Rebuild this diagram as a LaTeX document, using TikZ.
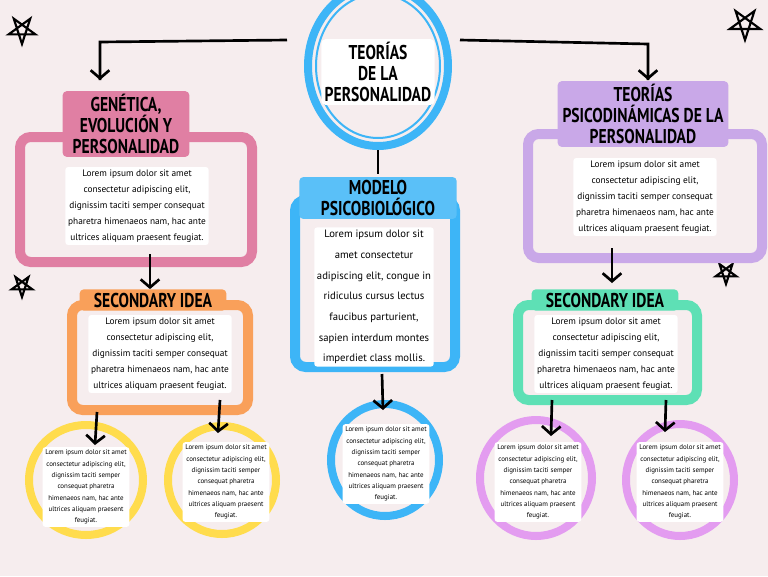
\documentclass[tikz,border=0pt]{standalone}
\usepackage{fontspec}
\setmainfont{PT Sans}
\newfontfamily\ttlfont[FakeStretch=0.78]{PT Sans}
\usetikzlibrary{arrows.meta}
\definecolor{bg}{HTML}{F6EDEE}
\definecolor{cblue}{HTML}{3DB5F7}
\definecolor{cpink}{HTML}{E07FA3}
\definecolor{corange}{HTML}{F9A05A}
\definecolor{cpurple}{HTML}{C9A8E8}
\definecolor{cgreen}{HTML}{5EE0B5}
\definecolor{cyellow}{HTML}{FFDC4D}
\definecolor{cviolet}{HTML}{E39CF0}
\tikzset{
  lorem/.style={fill=white,rounded corners=2pt,align=center,font=\fontsize{7}{12}\selectfont,inner sep=2pt},
  small/.style={fill=white,rounded corners=2pt,align=center,font=\fontsize{5.2}{8.5}\selectfont,inner sep=2pt},
  ttl/.style={align=center,font=\ttlfont\bfseries\fontsize{15}{15.5}\selectfont,inner sep=2.5pt,rounded corners=3pt},
  frame/.style={line width=7.5pt,rounded corners=8pt},
  ring/.style={line width=6pt},
  conn/.style={line width=2pt,-{Straight Barb[length=6pt,width=14pt]}},
  ln/.style={line width=2pt},
  star/.style={line width=1.6pt}
}
\newcommand{\mystar}[3]{\draw[star] #1 +(90:#2)--+(234:#2)--+(18:#2)--+(162:#2)--+(306:#2)--cycle;}
\begin{document}
\begin{tikzpicture}[x=0.75pt,y=-0.75pt]
\fill[bg] (0,0) rectangle (768,576);
\useasboundingbox (0,0) rectangle (768,576);
% stars
\mystar{(22,30)}{14}{}
\mystar{(745,24)}{16}{}
\mystar{(22,286)}{11}{}
\mystar{(726,273)}{11}{}
% central
\draw[cblue,ring] (378,66) ellipse (70 and 80);
\draw[cblue,line width=1.5pt] (378,66) ellipse (62 and 72);
\node[ttl,fill=white] (main) at (378,72) {TEORÍAS\\DE LA\\PERSONALIDAD};
\coordinate (tl) at (100,80);
\coordinate (tr) at (648,80);
\draw[ln] (287,40) -- (100,42) -- (tl);
\draw[conn] (100,60) -- (tl);
\draw[ln] (460,40) -- (648,44) -- (tr);
\draw[conn] (648,60) -- (tr);
% pink
\draw[cpink,frame] (20,137) rectangle (252,262);
\node[ttl,fill=cpink,minimum width=95pt] (pt) at (126,124) {GENÉTICA,\\EVOLUCIÓN Y\\PERSONALIDAD};
\node[lorem] (pl) at (137,206) {Lorem ipsum dolor sit amet\\consectetur adipiscing elit,\\dignissim taciti semper consequat\\pharetra himenaeos nam, hac ante\\ultrices aliquam praesent feugiat.};
% orange
\draw[corange,frame] (72,305) rectangle (248,410);
\node[ttl,fill=corange,minimum width=110pt] (ot) at (153,300) {SECONDARY IDEA};
\node[lorem] (ol) at (160,354) {Lorem ipsum dolor sit amet\\consectetur adipiscing elit,\\dignissim taciti semper consequat\\pharetra himenaeos nam, hac ante\\ultrices aliquam praesent feugiat.};
\draw[conn] (150,254) -- (ot.north -| 150,0);
% yellow circles
\draw[cyellow,ring] (86,480) ellipse (57 and 55);
\draw[cyellow,ring] (222,480) ellipse (54 and 54);
\node[small] (y1) at (86,487) {Lorem ipsum dolor sit amet\\consectetur adipiscing elit,\\dignissim taciti semper\\consequat pharetra\\himenaeos nam, hac ante\\ultrices aliquam praesent\\feugiat.};
\node[small] (y2) at (226,482) {Lorem ipsum dolor sit amet\\consectetur adipiscing elit,\\dignissim taciti semper\\consequat pharetra\\himenaeos nam, hac ante\\ultrices aliquam praesent\\feugiat.};
\draw[conn] (97,412) -- (95,445);
\draw[conn] (220,400) -- (218,433);
% blue middle
\draw[ln] (378,150) -- (378,174);
\draw[cblue,frame] (295,200) rectangle (455,367);
\node[ttl,fill=cblue!85!white,minimum width=118pt] (bt) at (378,198) {MODELO\\PSICOBIOLÓGICO};
\node[lorem,font=\fontsize{8}{15.5}\selectfont] (bl) at (374,297) {Lorem ipsum dolor sit\\amet consectetur\\adipiscing elit, congue in\\ridiculus cursus lectus\\faucibus parturient,\\sapien interdum montes\\imperdiet class mollis.};
\draw[cblue,ring] (385,460) ellipse (54 and 56);
\node[small] (bc) at (386,464) {Lorem ipsum dolor sit amet\\consectetur adipiscing elit,\\dignissim taciti semper\\consequat pharetra\\himenaeos nam, hac ante\\ultrices aliquam praesent\\feugiat.};
\draw[conn] (382,374) -- (383,410);
% purple
\draw[cpurple,frame] (528,134) rectangle (762,258);
\node[ttl,fill=cpurple,minimum width=128pt] (rt) at (643,114) {TEORÍAS\\PSICODINÁMICAS DE LA\\PERSONALIDAD};
\node[lorem] (rl) at (645,197) {Lorem ipsum dolor sit amet\\consectetur adipiscing elit,\\dignissim taciti semper consequat\\pharetra himenaeos nam, hac ante\\ultrices aliquam praesent feugiat.};
% green
\draw[cgreen,frame] (518,305) rectangle (697,400);
\node[ttl,fill=cgreen,minimum width=110pt] (gt) at (605,300) {SECONDARY IDEA};
\node[lorem] (gl) at (606,354) {Lorem ipsum dolor sit amet\\consectetur adipiscing elit,\\dignissim taciti semper consequat\\pharetra himenaeos nam, hac ante\\ultrices aliquam praesent feugiat.};
\draw[conn] (612,248) -- (612,283);
% violet circles
\draw[cviolet,ring] (536,478) ellipse (56 and 58);
\draw[cviolet,ring] (680,480) ellipse (54 and 56);
\node[small] (v1) at (538,482) {Lorem ipsum dolor sit amet\\consectetur adipiscing elit,\\dignissim taciti semper\\consequat pharetra\\himenaeos nam, hac ante\\ultrices aliquam praesent\\feugiat.};
\node[small] (v2) at (680,482) {Lorem ipsum dolor sit amet\\consectetur adipiscing elit,\\dignissim taciti semper\\consequat pharetra\\himenaeos nam, hac ante\\ultrices aliquam praesent\\feugiat.};
\draw[conn] (552,400) -- (551,436);
\draw[conn] (666,400) -- (665,432);
\end{tikzpicture}
\end{document}
